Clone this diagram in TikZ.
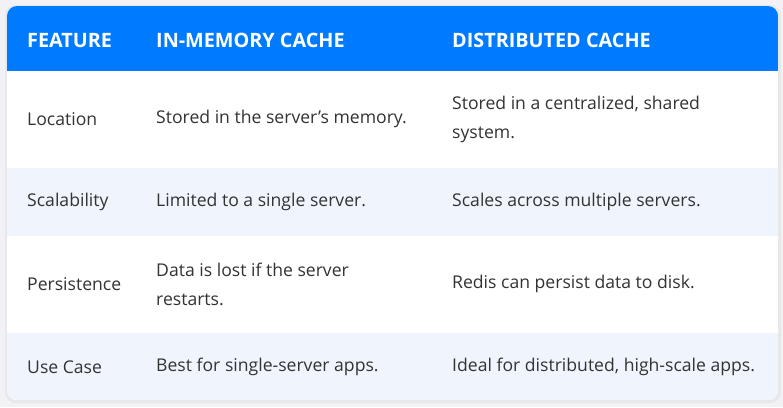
\documentclass[tikz,border=0pt]{standalone}
\usepackage{fontspec}
\setmainfont{Open Sans}
\usetikzlibrary{positioning}
\definecolor{headblue}{HTML}{007BFF}
\definecolor{rowtint}{HTML}{F0F5FD}
\definecolor{pagegrey}{HTML}{F1F1F6}
\definecolor{celltext}{HTML}{333333}

\begin{document}
\begin{tikzpicture}[x=1pt,y=-1pt]
\tikzstyle{cell}=[anchor=west,inner sep=0pt,text=celltext,
font=\fontsize{17.6}{29}\selectfont,align=left]
\tikzstyle{head}=[anchor=west,inner sep=0pt,text=white,
font=\fontsize{19.8}{22}\selectfont\bfseries]
\useasboundingbox (0,0) rectangle (783,407);
\fill[pagegrey] (0,0) rectangle (783,407);
% card shadow
\fill[black!9,rounded corners=11pt] (5,5) rectangle (781,403);
\begin{scope}
\clip[rounded corners=10pt] (7,6) rectangle (778,400);
\fill[white] (7,6) rectangle (778,400);
\fill[headblue] (7,6) rectangle (778,71);
\fill[rowtint] (7,168) rectangle (778,236);
\fill[rowtint] (7,333) rectangle (778,400);
\end{scope}

% header
\node[head] at (27,40) (h1) {FEATURE};
\node[head] at (156,40) (h2) {IN-MEMORY CACHE};
\node[head] at (452,40) (h3) {DISTRIBUTED CACHE};

% rows
\node[cell] at (27,119) (a1) {Location};
\node[cell] at (156,119) (b1) {Stored in the server’s memory.};
\node[cell] at (452,119) (c1) {Stored in a centralized, shared\\system.};

\node[cell] at (27,202) (a2) {Scalability};
\node[cell] at (156,202) (b2) {Limited to a single server.};
\node[cell] at (452,202) (c2) {Scales across multiple servers.};

\node[cell] at (27,284) (a3) {Persistence};
\node[cell] at (156,284) (b3) {Data is lost if the server\\restarts.};
\node[cell] at (452,284) (c3) {Redis can persist data to disk.};

\node[cell] at (27,367) (a4) {Use Case};
\node[cell] at (156,367) (b4) {Best for single-server apps.};
\node[cell] at (452,367) (c4) {Ideal for distributed, high-scale apps.};

\end{tikzpicture}
\end{document}
